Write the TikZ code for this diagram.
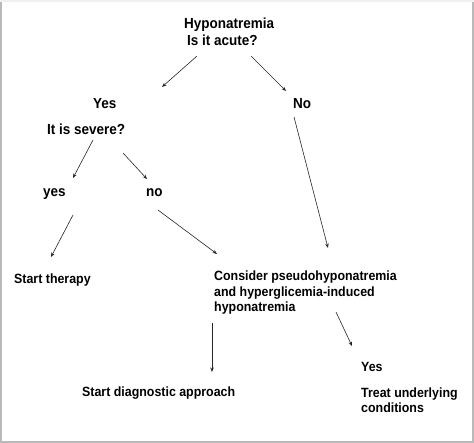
\documentclass[tikz,border=0pt]{standalone}
\usepackage{graphicx}
\usepackage{fontspec}
\setmainfont{Liberation Sans}
\usetikzlibrary{arrows.meta}
\newcommand{\vtall}[1]{\scalebox{1}[1.08]{#1}}
\begin{document}
\begin{tikzpicture}[x=1pt,y=-1pt,
  big/.style={font=\fontsize{13.5}{16}\selectfont\bfseries, inner sep=0pt, anchor=base west},
  small/.style={font=\fontsize{12.4}{15}\selectfont\bfseries, inner sep=0pt, anchor=base west},
  arr/.style={-{Stealth[length=4.5pt,width=3.5pt]}, line width=0.6pt, black!85}]
\useasboundingbox (0,0) rectangle (474,443);
\fill[gray!55] (0,0) rectangle (474,443);
\fill[gray!12] (0,0) rectangle (474,2);
\fill[white] (2.3,2) rectangle (471.5,440.8);
% texts
\node[big] (h1) at (184,28.3) {\vtall{Hyponatremia}};
\node[big] (h2) at (187,46) {\vtall{Is it acute?}};
\node[big] (yes1) at (93,109) {\vtall{Yes}};
\node[big] (sev) at (47,135) {\vtall{It is severe?}};
\node[big] (no1) at (293,109) {\vtall{No}};
\node[big] (yes2) at (43,196.7) {\vtall{yes}};
\node[big] (no2) at (146,196.7) {\vtall{no}};
\node[small] (st) at (14,284) {\vtall{Start therapy}};
\node[small] (c1) at (214,281) {\vtall{Consider pseudohyponatremia}};
\node[small] (c2) at (214,297) {\vtall{and hyperglicemia-induced}};
\node[small] (c3) at (214,312) {\vtall{hyponatremia}};
\node[small] (sd) at (82,396.7) {\vtall{Start diagnostic approach}};
\node[small] (yes3) at (361,371.7) {\vtall{Yes}};
\node[small] (t1) at (361,397.7) {\vtall{Treat underlying}};
\node[small] (t2) at (361,413) {\vtall{conditions}};
% arrows
\draw[arr] ([shift={(10,10)}]h2.base west) -- ([shift={(69,-22)}]yes1.base west);
\draw[arr] ([shift={(64,10)}]h2.base west) -- ([shift={(-7,-18)}]no1.base west);
\draw[arr] ([shift={(46,5)}]sev.base west) -- ([shift={(30,-18.7)}]yes2.base west);
\draw[arr] ([shift={(76,18)}]sev.base west) -- ([shift={(1,-17.7)}]no2.base west);
\draw[arr] ([shift={(1,8)}]no1.base west) -- ([shift={(114,-33)}]c1.base west);
\draw[arr] ([shift={(30,18.3)}]yes2.base west) -- ([shift={(37,-27)}]st.base west);
\draw[arr] ([shift={(12,13.3)}]no2.base west) -- ([shift={(3,-27)}]c1.base west);
\draw[arr] ([shift={(-2,11)}]c3.base west) -- ([shift={(130,-24.7)}]sd.base west);
\draw[arr] ([shift={(122,0)}]c3.base west) -- ([shift={(-9,-25.7)}]yes3.base west);
\end{tikzpicture}
\end{document}
